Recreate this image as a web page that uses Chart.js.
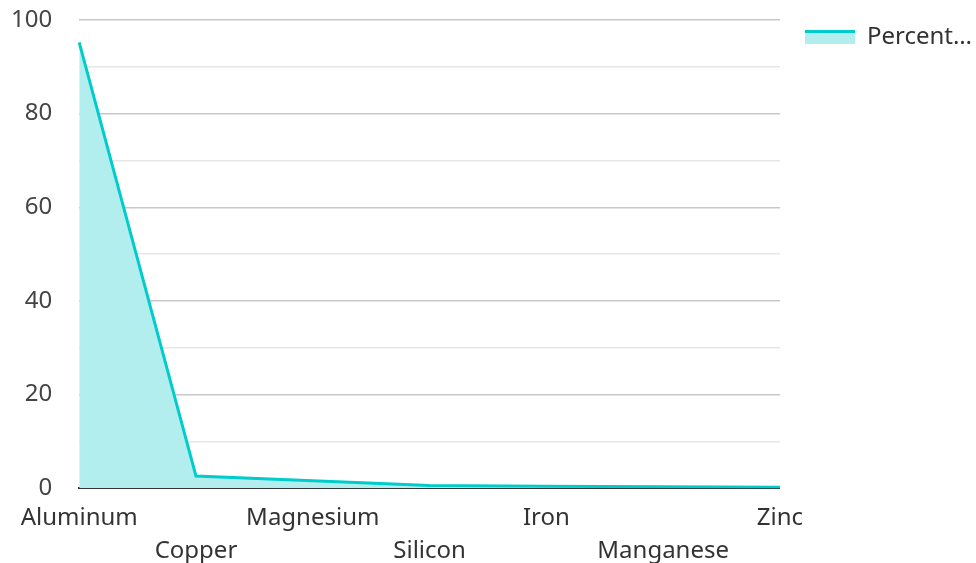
<!DOCTYPE html>
<html>
<head>
<meta charset="utf-8">
<style>
  html, body { margin: 0; padding: 0; background: #ffffff; }
  #wrap { width: 976px; height: 563px; position: relative; }
</style>
<script src="https://cdn.jsdelivr.net/npm/chart.js@4.4.1/dist/chart.umd.min.js"></script>
</head>
<body>
<div id="wrap"><canvas id="chart" width="976" height="563"></canvas></div>
<script>
// Alloy composition by element
const elements = ['Aluminum', 'Copper', 'Magnesium', 'Silicon', 'Iron', 'Manganese', 'Zinc'];
const percentages = [95.2, 2.6, 1.6, 0.6, 0.4, 0.3, 0.2];
const yTickValues = [0, 20, 40, 60, 80, 100];
const seriesName = 'Percentage';

const lineColor = '#00cccc';
const fillColor = '#b2eeee';
const textColor = '#333333';
const fontFamily = '"Noto Sans", "Open Sans", sans-serif';

// Legend swatch: a teal line over a light filled band
function makeSwatch() {
  const c = document.createElement('canvas');
  c.width = 50; c.height = 14;
  const g = c.getContext('2d');
  g.fillStyle = fillColor;
  g.fillRect(0, 3, 50, 11);
  g.fillStyle = lineColor;
  g.fillRect(0, 0, 50, 3);
  return c;
}
const swatch = makeSwatch();

new Chart(document.getElementById('chart'), {
  type: 'line',
  data: {
    labels: elements,
    datasets: [{
      label: seriesName,
      data: percentages,
      borderColor: lineColor,
      backgroundColor: fillColor,
      borderWidth: 3,
      fill: 'origin',
      tension: 0,
      pointRadius: 0,
      pointHoverRadius: 0
    }]
  },
  options: {
    responsive: false,
    animation: false,
    layout: { padding: { top: -20, left: 11, right: -6, bottom: -18 } },
    plugins: {
      tooltip: { enabled: false },
      legend: {
        position: 'right',
        align: 'start',
        title: { display: true, text: '', font: { size: 10 }, padding: { top: 4, bottom: 4 } },
        labels: {
          usePointStyle: true,
          pointStyleWidth: 50,
          boxHeight: 14,
          padding: 25,
          color: textColor,
          font: { family: fontFamily, size: 24 },
          generateLabels(chart) {
            return chart.data.datasets.map((ds, i) => ({
              text: ds.label.length > 7 ? ds.label.slice(0, 7) + '…' : ds.label,
              pointStyle: swatch,
              fillStyle: fillColor,
              strokeStyle: lineColor,
              fontColor: textColor,
              lineWidth: 0,
              hidden: false,
              datasetIndex: i
            }));
          }
        }
      }
    },
    scales: {
      x: {
        offset: false,
        grid: { display: false, drawTicks: false },
        border: { display: true, color: '#333333', width: 2 },
        ticks: {
          autoSkip: false,
          maxRotation: 0,
          minRotation: 0,
          padding: 14,
          color: textColor,
          font: { family: fontFamily, size: 24, lineHeight: 1.35 },
          callback(value, index) {
            const name = elements[index];
            return index % 2 === 0 ? [name, ''] : ['', name];
          }
        }
      },
      y: {
        min: 0,
        max: 100,
        grid: {
          drawTicks: true,
          tickLength: 27,
          tickColor: 'rgba(0,0,0,0)',
          color(ctx) {
            const v = ctx.tick ? ctx.tick.value : 0;
            if (v === 0) return 'rgba(0,0,0,0)';
            return yTickValues.includes(v) ? '#c8c8c8' : '#e6e6e6';
          },
          lineWidth: 1.5
        },
        border: { display: false },
        ticks: {
          stepSize: 10,
          padding: 0,
          color: '#444444',
          font: { family: fontFamily, size: 24, lineHeight: '40px' },
          callback(value) {
            return yTickValues.includes(value) ? String(value) : '';
          }
        }
      }
    }
  }
});
</script>
</body>
</html>
